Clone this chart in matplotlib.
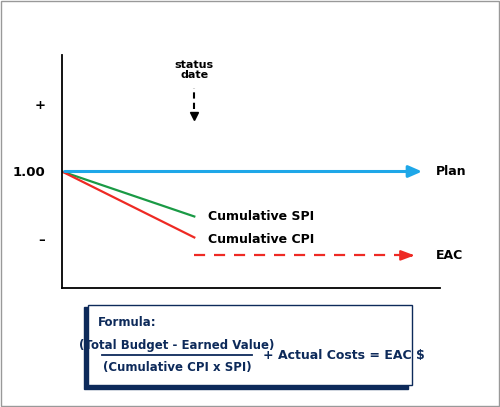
import matplotlib
matplotlib.use("Agg")
import matplotlib.pyplot as plt
from matplotlib.patches import Rectangle

plt.rcParams["font.family"] = ["DejaVu Sans Condensed", "DejaVu Sans"]

# datos (tiempo 0..10, indice de desempeno)
status_x = 3.5
plan_x = [0, 9.6]
plan_y = [1.0, 1.0]
spi_x = [0, status_x]
spi_y = [1.0, 0.807]
cpi_x = [0, status_x]
cpi_y = [1.0, 0.717]
eac_x = [status_x, 9.4]
eac_y = [0.64, 0.64]
ytick_pos = [1.29, 1.0, 0.71]
ytick_lab = ["+", "1.00", "\u2013"]

W, H = 500, 407
fig = plt.figure(figsize=(W / 100, H / 100), dpi=100)
fig.patches.append(Rectangle((0.002, 0.002), 0.996, 0.996, transform=fig.transFigure,
                             fill=False, ec="#999999", lw=1))

ax = fig.add_axes([62 / W, 1 - 288 / H, 378 / W, 233 / H])
ax.set_xlim(0, 10)
ax.set_ylim(0.5, 1.5)
for s in ["top", "right"]:
    ax.spines[s].set_visible(False)
ax.spines["left"].set_linewidth(1.3)
ax.spines["bottom"].set_linewidth(1.3)
ax.set_xticks([])
ax.set_yticks(ytick_pos)
ax.set_yticklabels(ytick_lab, fontsize=9.5, fontweight="bold")
ax.tick_params(axis="y", length=0, pad=12)

blue, green, red = "#1ea7e8", "#1a9a45", "#ee2a24"
ax.plot(spi_x, spi_y, color=green, lw=1.6)
ax.plot(cpi_x, cpi_y, color=red, lw=1.6)
ax.annotate("", xy=(plan_x[1], plan_y[1]), xytext=(plan_x[0], plan_y[0]),
            arrowprops=dict(arrowstyle="-|>,head_length=0.8,head_width=0.35",
                            color=blue, lw=2.2))
ax.plot([eac_x[0], eac_x[1] - 0.25], eac_y, color=red, lw=1.6, ls=(0, (5, 4)))
ax.annotate("", xy=(eac_x[1], eac_y[1]), xytext=(eac_x[1] - 0.3, eac_y[0]),
            arrowprops=dict(arrowstyle="-|>,head_length=0.8,head_width=0.3",
                            color=red, lw=1.6))

bold = dict(fontsize=9, fontweight="bold", va="center")
ax.text(9.9, plan_y[1], "Plan", **bold)
ax.text(9.9, eac_y[1], "EAC", **bold)
ax.text(status_x + 0.35, spi_y[1], "Cumulative SPI", **bold)
ax.text(status_x + 0.35, cpi_y[1] - 0.01, "Cumulative CPI", **bold)
ax.text(status_x, 1.435, "status\ndate", ha="center", va="center", fontsize=8,
        fontweight="bold", linespacing=0.95)
ax.plot([status_x, status_x], [1.27, 1.36], color="black", lw=1.5, ls=(0, (3, 2)))
ax.plot([status_x], [1.24], marker="v", color="black", ms=6)

# formula box
navy = "#0d2a5a"
fig.patches.append(Rectangle((84 / W, 1 - 389 / H), 324 / W, 82 / H,
                             transform=fig.transFigure, fc=navy, ec=navy))
fig.patches.append(Rectangle((88 / W, 1 - 385 / H), 324 / W, 80 / H,
                             transform=fig.transFigure, fc="white", ec=navy, lw=1))
fig.text(98 / W, 1 - 322 / H, "Formula:", fontsize=8.5, fontweight="bold",
         color=navy, va="center")
fig.text(177 / W, 1 - 345 / H, "(Total Budget - Earned Value)", fontsize=8.5,
         fontweight="bold", color=navy, ha="center", va="center")
fig.add_artist(plt.Line2D([102 / W, 252 / W], [1 - 355 / H] * 2, color=navy, lw=1.3))
fig.text(177 / W, 1 - 367 / H, "(Cumulative CPI x SPI)", fontsize=8.5,
         fontweight="bold", color=navy, ha="center", va="center")
fig.text(263 / W, 1 - 356 / H, "+ Actual Costs = EAC $", fontsize=9,
         fontweight="bold", color=navy, va="center")

fig.savefig("out.png", dpi=100)
